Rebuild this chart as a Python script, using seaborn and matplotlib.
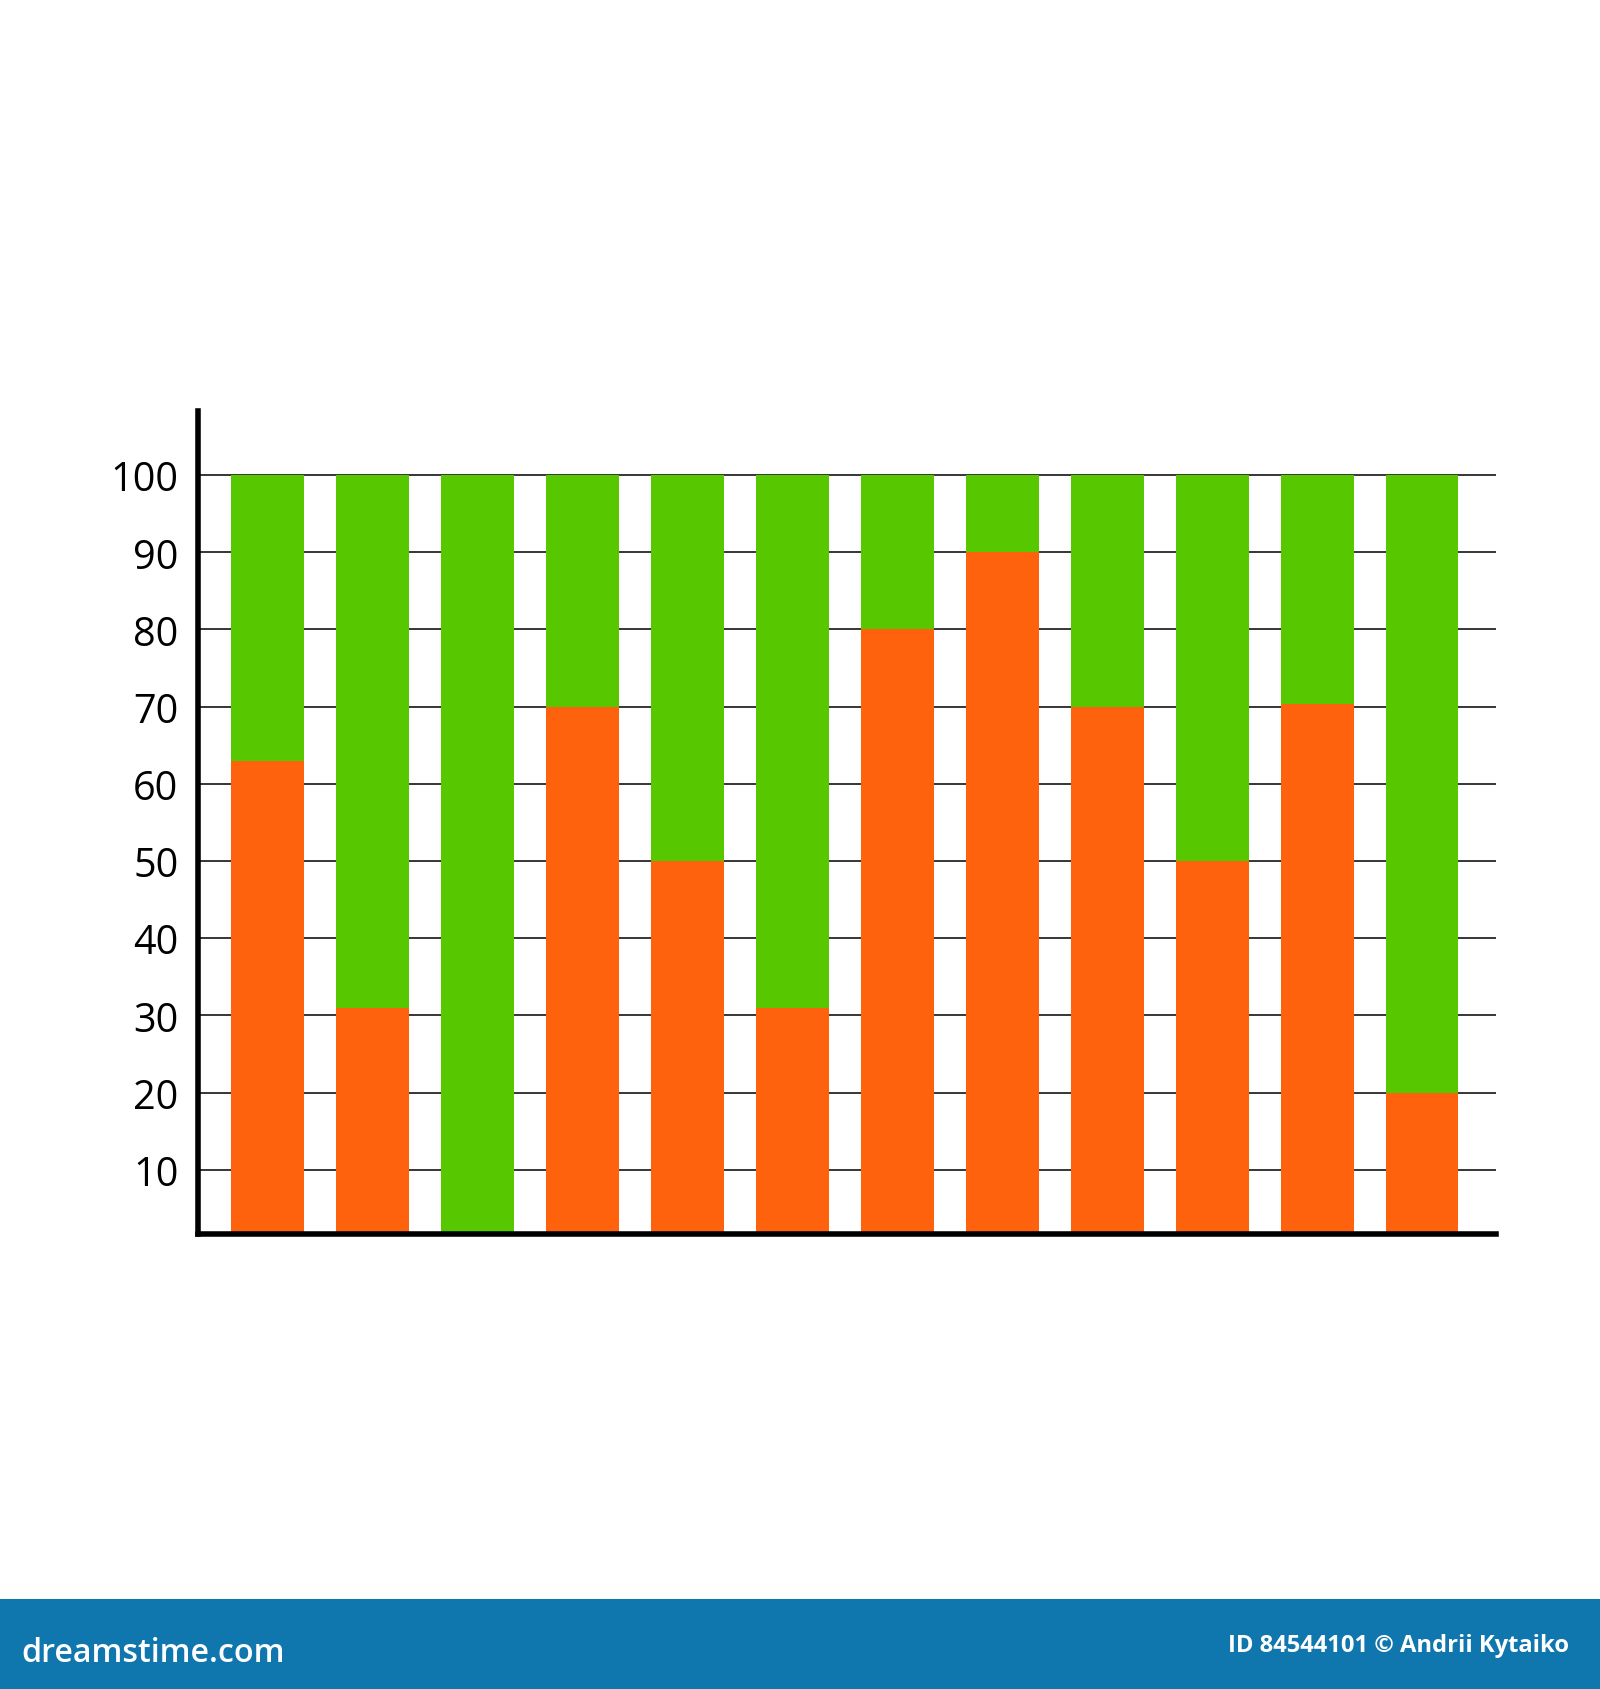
import pandas as pd
import seaborn as sns
import matplotlib.pyplot as plt

bars = list(range(1, 13))
orange_vals = [63, 31, 0, 70, 50, 31, 80, 90, 70, 50, 70.3, 20]
total_vals = [100] * 12
y_ticks = [10, 20, 30, 40, 50, 60, 70, 80, 90, 100]

green = '#57C800'
orange = '#FF620D'
banner = '#0F76AE'

sns.set_theme(style='white')
plt.rcParams['font.family'] = ['Open Sans', 'DejaVu Sans']

data = pd.DataFrame({'bar': bars, 'total': total_vals, 'orange': orange_vals})

fig = plt.figure(figsize=(16, 16.9), dpi=100, facecolor='white')
W, H = 1600, 1690

# plot area in pixels
left, right, top, bottom = 197.8, 1495.5, 412, 1235
ax = fig.add_axes([left / W, 1 - bottom / H, (right - left) / W, (bottom - top) / H])

# full green bars, orange part drawn over them
sns.barplot(data=data, x='bar', y='total', color=green, saturation=1, width=0.694, linewidth=0, ax=ax)
sns.barplot(data=data, x='bar', y='orange', color=orange, saturation=1, width=0.694, linewidth=0, ax=ax)

ax.set_xlim(-0.667, 11.70)
ax.set_ylim(1.68, 108.3)
ax.set_xlabel('')
ax.set_ylabel('')
ax.set_xticks([])
ax.set_yticks(y_ticks)
ax.tick_params(axis='y', length=0, pad=14, labelsize=28.5, labelcolor='black')

ax.set_axisbelow(True)
ax.yaxis.grid(True, color='black', linewidth=1.1)
ax.xaxis.grid(False)

sns.despine(ax=ax)
for side in ['left', 'bottom']:
    ax.spines[side].set_color('black')
    ax.spines[side].set_linewidth(4)

# footer strip
strip = fig.add_axes([0, 0, 1, 90 / H], facecolor=banner)
strip.set_xticks([])
strip.set_yticks([])
sns.despine(ax=strip, left=True, bottom=True)
strip.text(21 / W, 0.41, 'dreamstime.com', transform=strip.transAxes, color='white',
           fontsize=23.2, fontweight='semibold', va='center', ha='left')
strip.text(1569 / W, 0.49, 'ID 84544101 © Andrii Kytaiko', transform=strip.transAxes,
           color='white', fontsize=17.1, fontweight='bold', va='center', ha='right')

fig.savefig('out.png', dpi=100)
